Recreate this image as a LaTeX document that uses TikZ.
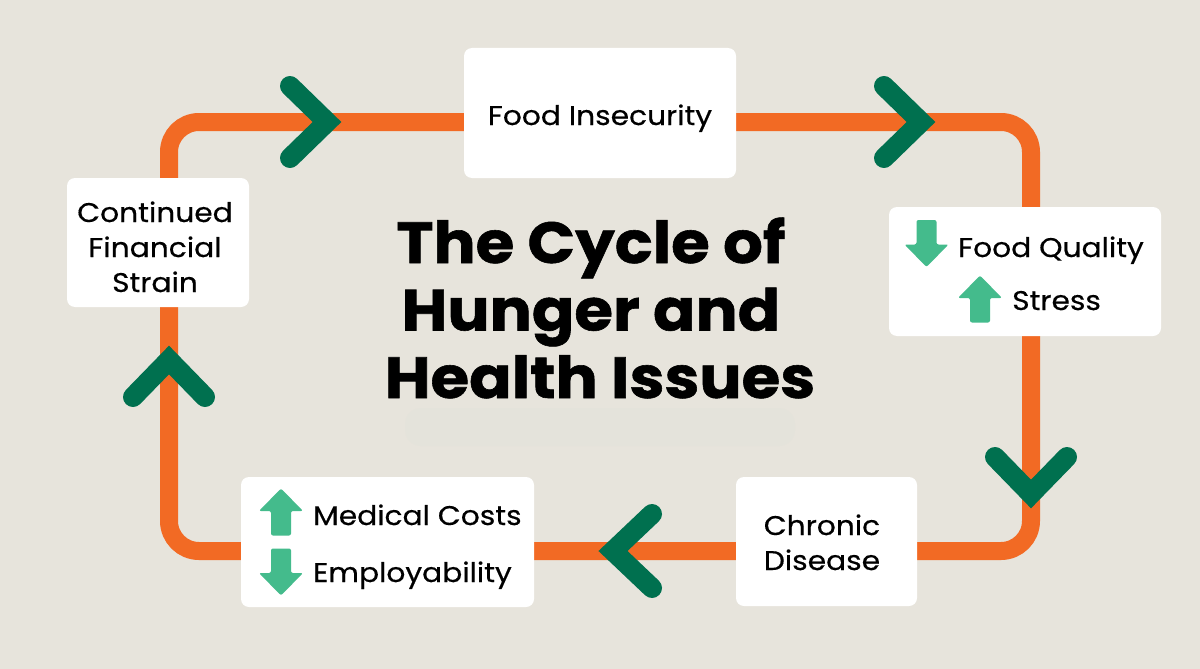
\documentclass[tikz,border=0pt]{standalone}
\usepackage{fontspec}
\setmainfont{Poppins}
\newfontfamily\lblfont{Poppins}[FakeStretch=1.1, FakeBold=0.4]
\newfontfamily\ttlfont{Poppins}[FakeStretch=1.08, BoldFeatures={FakeBold=1}]
\definecolor{bgc}{HTML}{E7E4DC}
\definecolor{orangec}{HTML}{F26A24}
\definecolor{darkgreen}{HTML}{00704F}
\definecolor{lightgreen}{HTML}{44BB8C}
\definecolor{shadowc}{HTML}{E2E3DA}
\tikzset{
  loopline/.style={draw=orangec, line width=18pt, rounded corners=30pt},
  chevron/.style={draw=darkgreen, line width=20pt, line cap=round, line join=miter},
  box/.style={fill=white, rounded corners=8pt, inner sep=0pt},
  lbl/.style={inner sep=0pt, font=\lblfont\fontsize{27}{35}\selectfont, text=black},
  ttl/.style={inner sep=0pt, font=\ttlfont\fontsize{58}{67}\selectfont\bfseries, text=black},
  icon/.style={fill=lightgreen, rounded corners=2pt},
  uparrow/.pic={\fill[icon] (0,-23.5) -- (22,-1) -- (10,-1) -- (10,23.5) -- (-10,23.5) -- (-10,-1) -- (-22,-1) -- cycle;},
  downarrow/.pic={\fill[icon] (0,23.5) -- (22,1) -- (10,1) -- (10,-23.5) -- (-10,-23.5) -- (-10,1) -- (-22,1) -- cycle;}
}
\begin{document}
\begin{tikzpicture}[x=1pt,y=-1pt]
\useasboundingbox (0,0) rectangle (1200,669);
\fill[bgc] (0,0) rectangle (1200,669);

% loop corners
\coordinate (TM) at (600,122);
\coordinate (TR) at (1031,122);
\coordinate (BR) at (1031,551);
\coordinate (BL) at (169,551);
\coordinate (TL) at (169,122);
\draw[loopline] (TM) -- (TR) -- (BR) -- (BL) -- (TL) -- cycle;

% chevrons
\draw[chevron] (290,86) -- (327,122) -- (290,158);
\draw[chevron] (884,86) -- (921,122) -- (884,158);
\draw[chevron] (995,457) -- (1031,494) -- (1067,457);
\draw[chevron] (652,514) -- (613,551) -- (652,588);
\draw[chevron] (133,397) -- (169,360) -- (205,397);

% boxes
\node[box, minimum width=272pt, minimum height=130pt] (food) at (600,113) {};
\node[box, minimum width=182pt, minimum height=129pt] (strain) at (158,242.5) {};
\node[box, minimum width=272pt, minimum height=129pt] (quality) at (1025,271.5) {};
\node[box, minimum width=181pt, minimum height=129pt] (chronic) at (826.5,541.5) {};
\node[box, minimum width=293pt, minimum height=130pt] (medical) at (387.5,542) {};

% texts
\node[lbl, anchor=base] (foodT) at (600,125) {Food Insecurity};
\node[lbl, anchor=base] (strainT1) at (155,222) {Continued};
\node[lbl, anchor=base] (strainT2) at (155,257) {Financial};
\node[lbl, anchor=base] (strainT3) at (155,292) {Strain};
\node[lbl, anchor=base] (chronicT1) at (822,535) {Chronic};
\node[lbl, anchor=base] (chronicT2) at (822,570) {Disease};

\pic at (926.5,243.5) {downarrow};
\node[lbl, anchor=base west] (qualityT) at (958,257) {Food Quality};
\pic at (980,299) {uparrow};
\node[lbl, anchor=base west] (stressT) at (1012,310) {Stress};

\pic at (281,512) {uparrow};
\node[lbl, anchor=base west] (costsT) at (313,525) {Medical Costs};
\pic at (281,572) {downarrow};
\node[lbl, anchor=base west] (employT) at (313,582) {Employability};

% title
\fill[shadowc, rounded corners=16pt, opacity=0.45] (405,408) rectangle (795,446);
\node[ttl, anchor=base] (t1) at (591,263) {The Cycle of};
\node[ttl, anchor=base] (t2) at (591,330.5) {Hunger and};
\node[ttl, anchor=base] (t3) at (600,398) {Health Issues};
\end{tikzpicture}
\end{document}
